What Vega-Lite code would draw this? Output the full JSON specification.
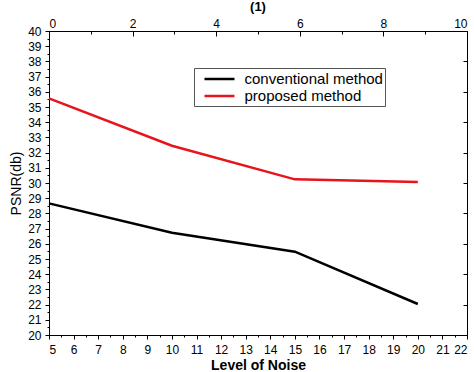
{
  "$schema": "https://vega.github.io/schema/vega-lite/v6.json",
  "width": 418,
  "height": 304,
  "autosize": "none",
  "padding": {"left": 49, "top": 31, "right": 7, "bottom": 37},
  "background": "white",
  "title": {"text": "(1)", "fontSize": 13, "fontWeight": "bold", "font": "Liberation Sans", "color": "black", "offset": 1, "anchor": "middle"},
  "config": {
    "view": {"stroke": "black", "strokeWidth": 1},
    "axis": {"grid": false, "domainColor": "black", "tickColor": "black", "labelColor": "black", "titleColor": "black", "labelFont": "Liberation Sans", "titleFont": "Liberation Sans", "labelFontSize": 12, "titleFontSize": 14, "labelOverlap": false},
    "legend": {"labelFont": "Liberation Sans"}
  },
  "layer": [
    {
      "data": {"values": [
        {"noise": 5, "psnr": 28.66, "method": "conventional method"},
        {"noise": 10, "psnr": 26.73, "method": "conventional method"},
        {"noise": 15, "psnr": 25.48, "method": "conventional method"},
        {"noise": 20, "psnr": 22.04, "method": "conventional method"},
        {"noise": 5, "psnr": 35.57, "method": "proposed method"},
        {"noise": 10, "psnr": 32.45, "method": "proposed method"},
        {"noise": 15, "psnr": 30.24, "method": "proposed method"},
        {"noise": 20, "psnr": 30.07, "method": "proposed method"}
      ]},
      "mark": {"type": "line", "strokeWidth": 2.5},
      "encoding": {
        "x": {"field": "noise", "type": "quantitative", "scale": {"domain": [5, 22], "nice": false, "zero": false},
          "axis": {"orient": "bottom", "title": "Level of Noise", "titleFontWeight": "bold", "titlePadding": 3,
            "values": [5,5.5,6,6.5,7,7.5,8,8.5,9,9.5,10,10.5,11,11.5,12,12.5,13,13.5,14,14.5,15,15.5,16,16.5,17,17.5,18,18.5,19,19.5,20,20.5,21,21.5,22],
            "labelExpr": "datum.value % 1 === 0 ? format(datum.value, 'd') : ''",
            "tickSize": {"condition": {"test": "datum.value % 1 === 0", "value": 4}, "value": 2},
            "labelPadding": 5}},
        "y": {"field": "psnr", "type": "quantitative", "scale": {"domain": [20, 40], "nice": false, "zero": false},
          "axis": {"orient": "left", "title": "PSNR(db)", "titleFontWeight": "normal", "titlePadding": 4,
            "values": [20,20.5,21,21.5,22,22.5,23,23.5,24,24.5,25,25.5,26,26.5,27,27.5,28,28.5,29,29.5,30,30.5,31,31.5,32,32.5,33,33.5,34,34.5,35,35.5,36,36.5,37,37.5,38,38.5,39,39.5,40],
            "labelExpr": "datum.value % 1 === 0 ? format(datum.value, 'd') : ''",
            "tickSize": {"condition": {"test": "datum.value % 1 === 0", "value": 4}, "value": 2},
            "labelPadding": 4}},
        "color": {"field": "method", "type": "nominal",
          "scale": {"domain": ["conventional method", "proposed method"], "range": ["black", "#e8141c"]},
          "legend": {"title": null, "orient": "none", "legendX": 145, "legendY": 37, "strokeColor": "#555", "padding": 2,
            "symbolType": "M-2,0H2", "symbolSize": 225, "symbolStrokeWidth": 2.5, "symbolOffset": 14.5, "labelFontSize": 15, "labelColor": "black", "rowPadding": -2, "labelOffset": 16, "fillColor": "white"}}
      }
    },
    {
      "data": {"values": [{"t": 0, "v": 20}, {"t": 10, "v": 40}]},
      "mark": {"type": "point", "opacity": 0},
      "encoding": {
        "x": {"field": "t", "type": "quantitative", "scale": {"domain": [0, 10], "nice": false, "zero": false},
          "axis": {"orient": "top", "title": null, "values": [0,1,2,3,4,5,6,7,8,9,10],
            "labelExpr": "datum.value % 2 === 0 ? datum.label : ''",
            "tickSize": {"condition": {"test": "datum.value % 2 === 0", "value": -5}, "value": -3},
            "labelPadding": 6}},
        "y": {"field": "v", "type": "quantitative", "scale": {"domain": [20, 40], "nice": false, "zero": false},
          "axis": {"orient": "right", "title": null, "values": [20,22,24,26,28,30,32,34,36,38,40], "labels": false, "tickSize": -4}}
      }
    }
  ],
  "resolve": {"scale": {"x": "independent", "y": "independent"}, "axis": {"x": "independent", "y": "independent"}}
}
